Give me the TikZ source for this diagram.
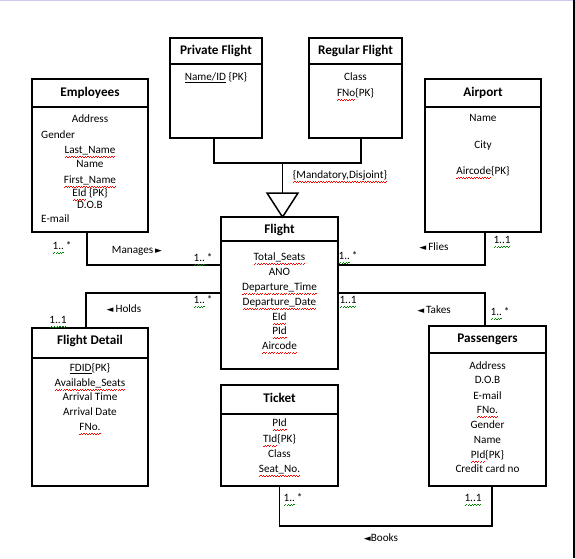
\documentclass[tikz,border=0pt]{standalone}
\usepackage{fontspec}
\setmainfont{Carlito}
\newfontfamily\dv{DejaVu Sans}
\newsavebox\wvbox
\newcommand\wv[2]{\sbox\wvbox{#2}\leavevmode\rlap{\hbox to \wd\wvbox{\color{#1}\xleaders\hbox{\rule[-3.9pt]{1.3pt}{0.7pt}\rule[-2.9pt]{1.3pt}{0.7pt}}\hfil}}\usebox\wvbox}
\newcommand\rw{\wv{red}}
\newcommand\gw{\wv{green!50!black}}
\newcommand\la{{\dv\fontsize{9}{10}\selectfont\raisebox{0.3pt}{◄}}}
\newcommand\ra{{\dv\fontsize{9}{10}\selectfont\raisebox{0.3pt}{►}}}
\begin{document}
\begin{tikzpicture}[x=1pt,y=-1pt,
  box/.style={draw, line width=1.5pt, inner sep=0pt, outer sep=0pt},
  hdr/.style={line width=1.5pt},
  conn/.style={line width=1.5pt},
  ttl/.style={font=\bfseries\fontsize{13.2}{15}\selectfont, inner sep=0pt},
  attr/.style={font=\fontsize{11.2}{13}\selectfont, inner sep=0pt, text height=8pt, text depth=1pt},
  lbl/.style={font=\fontsize{11.2}{13}\selectfont, inner sep=0pt, text height=8pt, text depth=1pt}]
\useasboundingbox (0,0) rectangle (575,558);
\fill[white] (0,0) rectangle (575,558);
\draw[line width=1pt, gray!35!blue!25] (0,0.5) -- (575,0.5);
\draw[line width=1.5pt] (574,0) -- (574,558);

% ---------- entities ----------
\node[box, minimum width=92, minimum height=100] (pf) at (216,88) {};
\draw[hdr] ([yshift=-26pt]pf.north west) -- ([yshift=-26pt]pf.north east);
\node[ttl] (pfT) at (216,51) {Private Flight};
\node[attr] (pf1) at (216,77) {\underline{Name/ID} \{PK\}};

\node[box, minimum width=93, minimum height=100] (rf) at (355.5,88) {};
\draw[hdr] ([yshift=-26pt]rf.north west) -- ([yshift=-26pt]rf.north east);
\node[ttl] (rfT) at (355.5,51) {Regular Flight};
\node[attr] (rf1) at (355.5,77) {Class};
\node[attr] (rf2) at (355.5,93) {\rw{FNo}\{PK\}};

\node[box, minimum width=116, minimum height=153] (emp) at (90,155.5) {};
\draw[hdr] ([yshift=-28pt]emp.north west) -- ([yshift=-28pt]emp.north east);
\node[ttl] (empT) at (90,93) {Employees};
\node[attr] (e1) at (90,119) {Address};
\node[attr, anchor=west] (e2) at (41,135) {Gender};
\node[attr] (e3) at (90,150) {\rw{Last\_Name}};
\node[attr] (e4) at (90,164) {Name};
\node[attr] (e5) at (90,180) {\rw{First\_Name}};
\node[attr] (e6) at (90,193) {\rw{EId} \{PK\}};
\node[attr] (e7) at (90,205) {D.O.B};
\node[attr, anchor=west] (e8) at (41,219) {E-mail};

\node[box, minimum width=116, minimum height=153] (air) at (483,155.5) {};
\draw[hdr] ([yshift=-28pt]air.north west) -- ([yshift=-28pt]air.north east);
\node[ttl] (airT) at (483,93) {Airport};
\node[attr] (a1) at (483,118) {Name};
\node[attr] (a2) at (483,145) {City};
\node[attr] (a3) at (483,171) {\rw{Aircode}\{PK\}};

\node[box, minimum width=117, minimum height=152] (fl) at (279.5,293) {};
\draw[hdr] ([yshift=-24pt]fl.north west) -- ([yshift=-24pt]fl.north east);
\node[ttl] (flT) at (279.5,230) {Flight};
\node[attr] (f1) at (279.5,257) {\rw{Total\_Seats}};
\node[attr] (f2) at (279.5,272) {ANO};
\node[attr] (f3) at (279.5,287) {\rw{Departure\_Time}};
\node[attr] (f4) at (279.5,302) {\rw{Departure\_Date}};
\node[attr] (f5) at (279.5,317) {\rw{EId}};
\node[attr] (f6) at (279.5,331) {\rw{PId}};
\node[attr] (f7) at (279.5,346) {\rw{Aircode}};

\node[box, minimum width=116, minimum height=158] (fd) at (90,407) {};
\draw[hdr] ([yshift=-30pt]fd.north west) -- ([yshift=-30pt]fd.north east);
\node[ttl] (fdT) at (90,341) {Flight Detail};
\node[attr] (d1) at (90,368) {\underline{FDID}\{PK\}};
\node[attr] (d2) at (90,383) {\rw{Available\_Seats}};
\node[attr] (d3) at (90,397) {Arrival Time};
\node[attr] (d4) at (90,412) {Arrival Date};
\node[attr] (d5) at (90,427) {\rw{FNo.}};

\node[box, minimum width=117, minimum height=101] (tk) at (279.5,435.5) {};
\draw[hdr] ([yshift=-29pt]tk.north west) -- ([yshift=-29pt]tk.north east);
\node[ttl] (tkT) at (279.5,398) {Ticket};
\node[attr] (t1) at (279.5,423) {\rw{PId}};
\node[attr] (t2) at (279.5,439) {\rw{TId}\{PK\}};
\node[attr] (t3) at (279.5,454) {Class};
\node[attr] (t4) at (279.5,469) {\rw{Seat\_No.}};

\node[box, minimum width=117, minimum height=160] (pas) at (487.5,406) {};
\draw[hdr] ([yshift=-27pt]pas.north west) -- ([yshift=-27pt]pas.north east);
\node[ttl] (pasT) at (487.5,339) {Passengers};
\node[attr] (p1) at (487.5,366) {Address};
\node[attr] (p2) at (487.5,380) {D.O.B};
\node[attr] (p3) at (487.5,396) {E-mail};
\node[attr] (p4) at (487.5,410) {\rw{FNo.}};
\node[attr] (p5) at (487.5,425) {Gender};
\node[attr] (p6) at (487.5,440) {Name};
\node[attr] (p7) at (487.5,455) {\rw{PId}\{PK\}};
\node[attr] (p8) at (487.5,469) {Credit card no};

% ---------- generalisation ----------
\coordinate (tritop) at (282.5,193);
\coordinate (j) at (282.5,163);
\draw[line width=1.5pt, line join=miter] (267,193) -- (298,193) -- (fl.north -| tritop) -- cycle;
\draw[conn] ([xshift=-2pt]pf.south) |- (j) -| ([xshift=5.5pt]rf.south);
\draw[conn] (j) -- (tritop);
\node[lbl] (md) at (340,175) {\rw{\{Mandatory,Disjoint\}}};

% ---------- relationships ----------
\draw[conn] ([xshift=-3pt]emp.south) |- ([yshift=28pt]fl.west);
\draw[conn] ([xshift=2pt]air.south) |- ([yshift=28pt]fl.east);
\draw[conn] (fl.west) -| ([xshift=-4pt]fd.north);
\draw[conn] (fl.east) -| ([xshift=-2.5pt]pas.north);
\draw[conn] (tk.south) -- ++(0,40) -| ([xshift=4.5pt]pas.south);

\node[lbl] (lm) at (137,250) {Manages\,\ra};
\node[lbl] (lf) at (434,247) {\la\,Flies};
\node[lbl] (lh) at (124,309) {\la\,Holds};
\node[lbl] (lt) at (434,310) {\la\,Takes};
\node[lbl] (lb) at (381,538) {\la Books};

\node[lbl] (m1) at (62,246) {\gw{1..}\,*};
\node[lbl] (m2) at (203,258) {\gw{1..}\,*};
\node[lbl] (m3) at (502,240) {\gw{1..1}};
\node[lbl] (m4) at (348,256) {\gw{1..}\,*};
\node[lbl] (m5) at (58,320) {\gw{1..1}};
\node[lbl] (m6) at (203,300) {\gw{1..}\,*};
\node[lbl] (m7) at (348,300) {\gw{1..1}};
\node[lbl] (m8) at (500,312) {\gw{1..}\,*};
\node[lbl] (m9) at (293,498) {\gw{1..}\,*};
\node[lbl] (m10) at (473,498) {\gw{1..1}};
\end{tikzpicture}
\end{document}
